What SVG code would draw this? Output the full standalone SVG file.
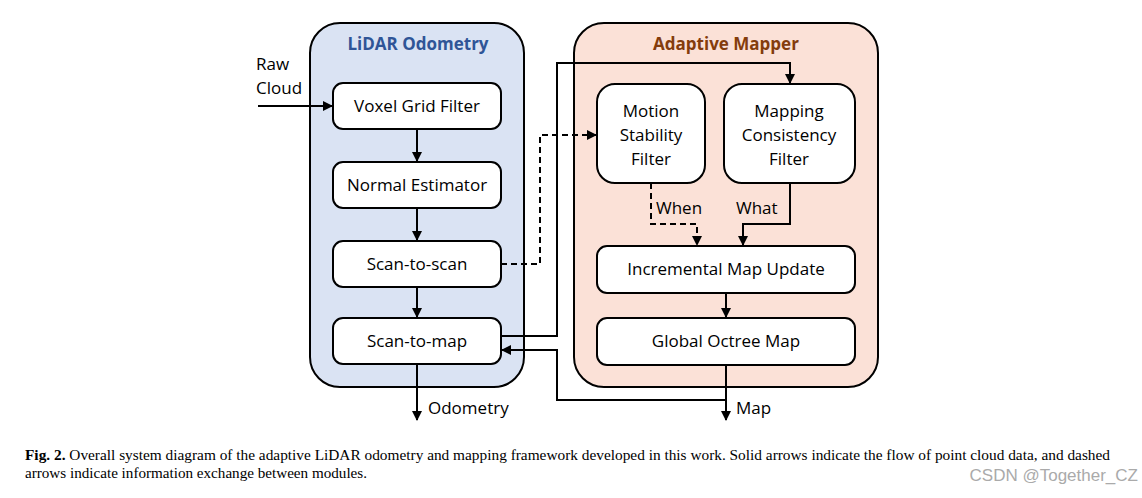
<svg xmlns="http://www.w3.org/2000/svg" width="1142" height="498" viewBox="0 0 1142 498">
<style>
.n{fill:#fff;stroke:#000;stroke-width:2}
.t{font-family:"Open Sans","Liberation Sans",sans-serif;font-size:17px;fill:#000;text-anchor:middle}
.c{fill:none;stroke:#000;stroke-width:2}
.d{stroke-dasharray:6,4}
.cap{font-family:"Liberation Serif",serif;font-size:14px;fill:#000}
</style>
<defs><marker id="a" markerWidth="10" markerHeight="10" refX="9" refY="5" orient="auto" markerUnits="userSpaceOnUse"><path d="M0,0L10,5L0,10z" fill="#000"/></marker></defs>
<rect width="1142" height="498" fill="#fff"/>
<g id="lidar-odometry"><rect x="310" y="23" width="214" height="364" rx="30" fill="#dae3f3" stroke="#000" stroke-width="2"/><text x="418" y="50" class="t" style="font-weight:bold;fill:#2f5597">LiDAR Odometry</text></g>
<g id="adaptive-mapper"><rect x="574" y="23" width="304" height="364" rx="30" fill="#fbe1d7" stroke="#000" stroke-width="2"/><text x="726" y="50" class="t" style="font-weight:bold;fill:#843c0c">Adaptive Mapper</text></g>
<g id="voxel"><rect class="n" x="333" y="83" width="168" height="46" rx="10"/><text class="t" x="417" y="112">Voxel Grid Filter</text></g>
<g id="normal"><rect class="n" x="333" y="162" width="168" height="46" rx="10"/><text class="t" x="417" y="191">Normal Estimator</text></g>
<g id="scan2scan"><rect class="n" x="333" y="241" width="168" height="46" rx="10"/><text class="t" x="417" y="270">Scan-to-scan</text></g>
<g id="scan2map"><rect class="n" x="333" y="318" width="168" height="46" rx="10"/><text class="t" x="417" y="347">Scan-to-map</text></g>
<g id="motion"><rect class="n" x="597" y="84" width="108" height="99" rx="18"/><text class="t" x="651" y="117">Motion</text><text class="t" x="651" y="141">Stability</text><text class="t" x="651" y="165">Filter</text></g>
<g id="mapping"><rect class="n" x="724" y="84" width="131" height="99" rx="18"/><text class="t" x="789" y="117">Mapping</text><text class="t" x="789" y="141">Consistency</text><text class="t" x="789" y="165">Filter</text></g>
<g id="incremental"><rect class="n" x="597" y="246" width="258" height="47" rx="10"/><text class="t" x="726" y="275">Incremental Map Update</text></g>
<g id="global"><rect class="n" x="597" y="318" width="258" height="47" rx="10"/><text class="t" x="726" y="347">Global Octree Map</text></g>
<g id="connectors">
<path class="c" d="M258,106H332" marker-end="url(#a)"/>
<path class="c" d="M417,129V161" marker-end="url(#a)"/>
<path class="c" d="M417,208V240" marker-end="url(#a)"/>
<path class="c" d="M417,287V317" marker-end="url(#a)"/>
<path class="c" d="M417,364V420" marker-end="url(#a)"/>
<path class="c d" d="M501,264H540V135H596" marker-end="url(#a)"/>
<path class="c" d="M501,336H557V63H790V83" marker-end="url(#a)"/>
<path class="c d" d="M651,183V224H697V245" marker-end="url(#a)"/>
<path class="c" d="M790,183V224H743V245" marker-end="url(#a)"/>
<path class="c" d="M726,293V317" marker-end="url(#a)"/>
<path class="c" d="M726,365V420" marker-end="url(#a)"/>
<path class="c" d="M726,400H557V350H502" marker-end="url(#a)"/>
</g>
<g class="t" style="text-anchor:start">
<text x="256" y="70">Raw</text><text x="256" y="94">Cloud</text>
<text x="428" y="414">Odometry</text><text x="736" y="414">Map</text>
<text x="656" y="214">When</text><text x="736" y="214">What</text>
</g>
<text class="cap" x="25" y="460" textLength="1085" lengthAdjust="spacingAndGlyphs"><tspan font-weight="bold">Fig. 2.</tspan>  Overall system diagram of the adaptive LiDAR odometry and mapping framework developed in this work. Solid arrows indicate the flow of point cloud data, and dashed</text>
<text class="cap" x="25" y="478" textLength="342" lengthAdjust="spacingAndGlyphs">arrows indicate information exchange between modules.</text>
<text x="1138" y="481" style="font-family:'Liberation Sans',sans-serif;font-size:17px;fill:#aaa;text-anchor:end">CSDN @Together_CZ</text>
</svg>
